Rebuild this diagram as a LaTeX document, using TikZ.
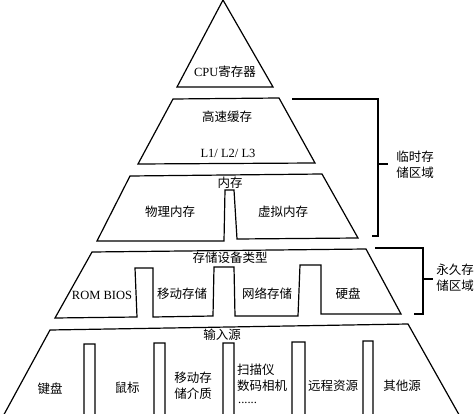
\documentclass[tikz,border=0pt]{standalone}
\usepackage{fontspec}
\setmainfont{Liberation Serif}
\newfontfamily\cjk{Noto Sans CJK SC}
\begin{document}
\begin{tikzpicture}[x=1pt,y=-1pt,
  shapeline/.style={draw=black,line width=1.2pt,line join=miter},
  lbl/.style={inner sep=0pt,font=\cjk\fontsize{12.5}{16}\selectfont,align=center},
  latin/.style={inner sep=0pt,font=\rmfamily\fontsize{12.5}{16}\selectfont}]
\useasboundingbox (0,0) rectangle (474,414);
\clip (0,0) rectangle (474,414);
\fill[white] (0,0) rectangle (474,414);
% level 1: triangle
\draw[shapeline] (223,0) -- (273,87) -- (177,87) -- cycle;
\node[lbl] (cpu) at (225,72) {{\rmfamily CPU}寄存器};
% level 2: cache
\draw[shapeline] (173,99) -- (279,98) -- (315,163) -- (138,164) -- cycle;
\node[lbl] (cache) at (227,117) {高速缓存};
\node[latin] (l123) at (228,153) {L1/ L2/ L3};
% level 3: memory
\draw[shapeline] (130,176) -- (322,174) -- (358,238) -- (237,239) -- (234,190) -- (225,190) -- (224,241) -- (97,241) -- cycle;
\node[lbl] (mem) at (230,183) {内存};
\node[lbl] (phys) at (170,212) {物理内存};
\node[lbl] (virt) at (283,212) {虚拟内存};
% level 4: storage devices
\draw[shapeline] (92,252) -- (366,249) -- (401,314) -- (321,314) -- (321,265) -- (300,265) -- (298,316) -- (235,316) -- (234,267) -- (214,267) -- (213,316) -- (153,317) -- (153,268) -- (135,268) -- (137,317) -- (55,318) -- cycle;
\node[lbl] (stype) at (230,258) {存储设备类型};
\node[latin] (rom) at (102,295) {ROM BIOS};
\node[lbl] (mobile) at (182,294) {移动存储};
\node[lbl] (net) at (267,294) {网络存储};
\node[lbl] (hdd) at (348,294) {硬盘};
% level 5: input sources
\draw[shapeline] (50,330) -- (408,324) -- (462,420) -- (373,420) -- (373,341) -- (363,341) -- (363,420) -- (305,420) -- (305,342) -- (292,342) -- (292,420) -- (234,420) -- (234,343) -- (223,343) -- (223,420) -- (165,420) -- (165,343) -- (154,343) -- (154,420) -- (95,420) -- (95,344) -- (84,344) -- (84,420) -- (1,420) -- cycle;
\node[lbl] (input) at (222,335) {输入源};
\node[lbl] (kbd) at (50,389) {键盘};
\node[lbl] (mouse) at (127,388) {鼠标};
\node[lbl] (media) at (193,386) {移动存\\储介质};
\node[lbl,anchor=west] (scan) at (237,370) {扫描仪};
\node[lbl,anchor=west] (cam) at (237,386) {数码相机};
\node[latin,anchor=base west] (dots) at (238,403) {......};
\node[lbl] (remote) at (333,386) {远程资源};
\node[lbl] (other) at (402,386) {其他源};
% brackets
\draw[shapeline] (292,99) -- (378,99) -- (378,236) -- (372,236);
\draw[shapeline] (378,164) -- (388,164);
\node[lbl] (temp) at (415,165) {临时存\\储区域};
\draw[shapeline] (375,248) -- (423,248) -- (423,314) -- (414,314);
\draw[shapeline] (423,279) -- (433,279);
\node[lbl] (perm) at (455,278) {永久存\\储区域};
\end{tikzpicture}
\end{document}
